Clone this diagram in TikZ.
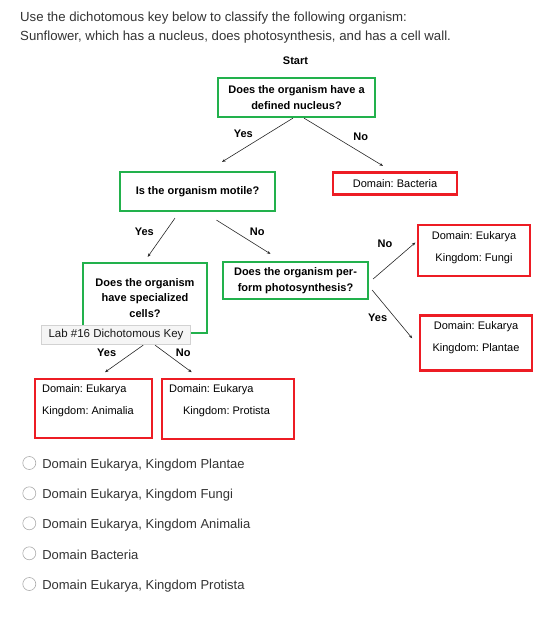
\documentclass[tikz,border=0pt]{standalone}
\usepackage{fontspec}
\setmainfont{Liberation Sans}
\usetikzlibrary{arrows.meta,shadows,positioning}
\definecolor{keygreen}{RGB}{34,177,76}
\definecolor{keyred}{RGB}{237,28,36}
\definecolor{prompt}{RGB}{51,51,51}
\frenchspacing
\begin{document}
\begin{tikzpicture}[x=1pt,y=-1pt,
  question/.style = {draw=keygreen, line width=2.2pt, align=center, inner sep=0pt,
    font=\bfseries\fontsize{11}{15.5}\selectfont},
  answer/.style = {draw=keyred, line width=2.2pt, align=center, inner sep=0pt,
    font=\fontsize{11}{22}\selectfont},
  listing/.style = {anchor=north west, align=left, inner sep=0pt, font=\fontsize{11}{22}\selectfont},
  branch/.style = {inner sep=0pt, font=\bfseries\fontsize{11}{13}\selectfont},
  key/.style = {-{Stealth[length=3.5pt,width=2.8pt]}, line width=0.6pt, black!85},
  radio/.style = {circle, draw=gray!65, fill=white, line width=0.6pt, minimum size=13pt, inner sep=0pt},
  option/.style = {anchor=west, inner sep=0pt, text=prompt, font=\fontsize{13}{15}\selectfont},
  tooltip/.style = {draw=gray!35, fill=gray!8, minimum width=149pt, minimum height=19pt, inner sep=0pt,
    text=black!90, font=\fontsize{11.5}{13}\selectfont,
    drop shadow={opacity=0.25, shadow xshift=0.8pt, shadow yshift=-1.2pt}}
]
\useasboundingbox (0,0) rectangle (550,618);
% task
\node[anchor=base west, inner sep=0pt, text=prompt, font=\fontsize{13.2}{15}\selectfont] (task1) at (20,21.5)
  {Use the dichotomous key below to classify the following organism:};
\node[anchor=base west, inner sep=0pt, text=prompt, font=\fontsize{13.2}{15}\selectfont] (task2) at (20,40.5)
  {Sunflower, which has a nucleus, does photosynthesis, and has a cell wall.};
\node[branch] (start) at (295.5,61) {Start};
% key
\node[question, minimum width=157pt, minimum height=39pt] (nucleus) at (296.5,97.5) {Does the organism have a\\defined nucleus?};
\node[answer, minimum width=124pt, minimum height=22pt] (bacteria) at (395,183.5) {Domain: Bacteria};
\node[question, minimum width=155pt, minimum height=39pt] (motile) at (197.5,191.5) {Is the organism motile?};
\node[question, minimum width=124pt, minimum height=70pt] (cells) at (145,298) {Does the organism\\have specialized\\cells?};
\node[question, minimum width=145pt, minimum height=37pt] (photo) at (295.5,280.5) {Does the organism per-\\form photosynthesis?};
\node[answer, minimum width=112pt, minimum height=51pt] (fungi) at (474,250.5) {};
\node[listing, anchor=north, align=center] (fungitext) at ([yshift=-7pt]fungi.north) {Domain: Eukarya\\Kingdom: Fungi};
\node[answer, minimum width=112pt, minimum height=55pt] (plantae) at (476,343) {};
\node[listing, anchor=north, align=center] (plantaetext) at ([yshift=-6.5pt]plantae.north) {Domain: Eukarya\\Kingdom: Plantae};
\node[answer, minimum width=117pt, minimum height=59pt] (animalia) at (93.5,408.5) {};
\node[listing] (animaliatext) at ([xshift=8pt,yshift=-6pt]animalia.north west) {Domain: Eukarya\\Kingdom: Animalia};
\node[answer, minimum width=132pt, minimum height=60pt] (protista) at (228,409) {};
\node[listing] (protistatext) at ([xshift=8pt,yshift=-6pt]protista.north west) {Domain: Eukarya\\\hspace*{14pt}Kingdom: Protista};

\draw[key] ([xshift=-3.5pt]nucleus.south) -- ([xshift=24.5pt,yshift=9pt]motile.north);
\draw[key] ([xshift=7.5pt]nucleus.south) -- ([xshift=-12pt,yshift=5.5pt]bacteria.north);
\draw[key] ([xshift=-22.5pt,yshift=-6pt]motile.south) -- ([xshift=2.7pt,yshift=5pt]cells.north);
\draw[key] ([xshift=19pt,yshift=-8pt]motile.south) -- ([xshift=-25pt,yshift=7pt]photo.north);
\draw[key] ([xshift=4pt,yshift=1.5pt]photo.east) -- ([xshift=-1.5pt,yshift=8pt]fungi.west);
\draw[key] ([xshift=3pt,yshift=-9.5pt]photo.east) -- ([xshift=-6.7pt,yshift=4.7pt]plantae.west);
\draw[key] ([xshift=-1.7pt,yshift=-11pt]cells.south) -- ([xshift=11.5pt,yshift=5.7pt]animalia.north);
\draw[key] ([xshift=10pt,yshift=-11pt]cells.south) -- ([xshift=-36.3pt,yshift=5.7pt]protista.north);

\node[branch] (yes1) at (243.3,133.3) {Yes};
\node[branch] (no1) at (360.7,136.7) {No};
\node[branch] (yes2) at (144.3,231.7) {Yes};
\node[branch] (no2) at (257.3,231.7) {No};
\node[branch] (no3) at (385,244) {No};
\node[branch] (yes3) at (377.7,317.7) {Yes};
\node[branch] (yes4) at (106.7,352.3) {Yes};
\node[branch] (no4) at (183.3,352.3) {No};

\node[tooltip] (lab) at (116,334.5) {Lab \#16 Dichotomous Key};
% choices
\foreach \ypos/\txt [count=\i] in {463/{Domain Eukarya, Kingdom Plantae}, 493.3/{Domain Eukarya, Kingdom Fungi},
    523.3/{Domain Eukarya, Kingdom Animalia}, 553.3/{Domain Bacteria}, 584/{Domain Eukarya, Kingdom Protista}}{
  \node[radio] (r\i) at (29.3,\ypos) {};
  \node[option, right=6pt of r\i, yshift=-2pt] (o\i) {\txt};
}
\end{tikzpicture}
\end{document}
